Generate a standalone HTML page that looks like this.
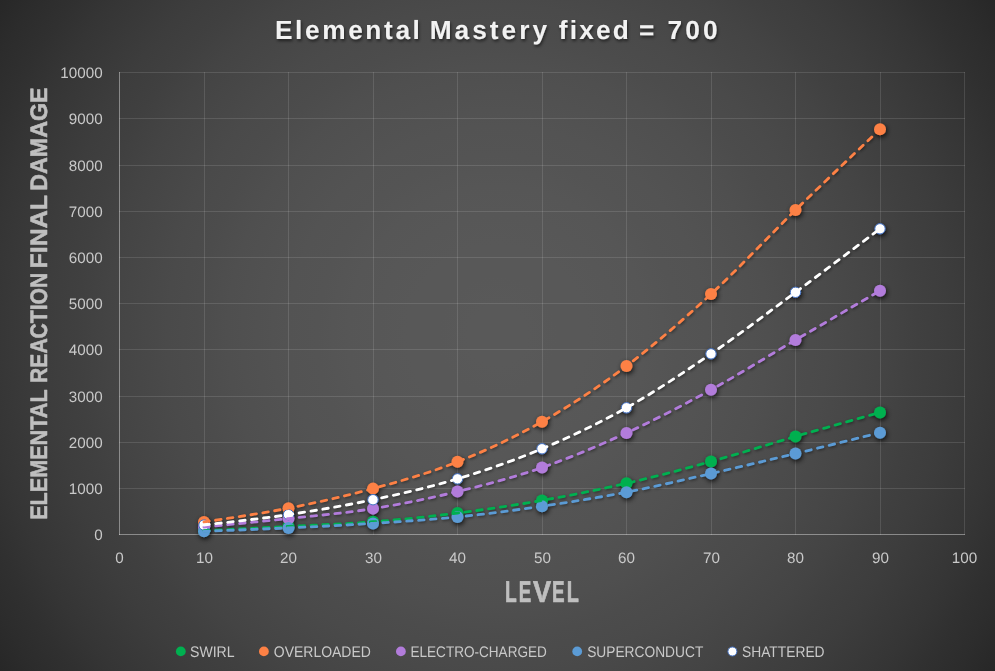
<!DOCTYPE html>
<html lang="en">
<head>
<meta charset="utf-8">
<title>Elemental Mastery fixed = 700</title>
<style>
html,body{margin:0;padding:0;}
body{width:995px;height:671px;overflow:hidden;background:#262626;}
#chart{position:relative;width:995px;height:671px;overflow:hidden;
 background:radial-gradient(circle farthest-corner at 50% 50%, rgb(89,89,89) 0%, rgb(89,89,89) 5%, rgb(88,88,88) 10%, rgb(88,88,88) 15%, rgb(87,87,87) 20%, rgb(86,86,86) 25%, rgb(84,84,84) 30%, rgb(83,83,83) 35%, rgb(81,81,81) 40%, rgb(79,79,79) 45%, rgb(76,76,76) 50%, rgb(74,74,74) 55%, rgb(71,71,71) 60%, rgb(68,68,68) 65%, rgb(64,64,64) 70%, rgb(61,61,61) 75%, rgb(57,57,57) 80%, rgb(53,53,53) 85%, rgb(48,48,48) 90%, rgb(44,44,44) 95%, rgb(39,39,39) 100%);}
svg{position:absolute;left:0;top:0;display:block;opacity:0.999;}
text{font-family:"Liberation Sans",sans-serif;text-rendering:geometricPrecision;}
.tick{font-size:15.2px;fill:#c9c9c9;}
.leg{font-size:15.4px;fill:#c9c9c9;}
.bold{font-weight:bold;}
</style>
</head>
<body>
<div id="chart">
<svg width="995" height="671" viewBox="0 0 995 671">
<defs>
<filter id="msh" x="-80%" y="-80%" width="260%" height="260%">
<feGaussianBlur in="SourceAlpha" stdDeviation="2.8"/>
<feOffset dx="1.2" dy="2.2"/>
<feComponentTransfer><feFuncA type="linear" slope="0.8"/></feComponentTransfer>
<feMerge><feMergeNode/><feMergeNode in="SourceGraphic"/></feMerge>
</filter>
<filter id="lsh" x="-5%" y="-5%" width="110%" height="110%">
<feGaussianBlur in="SourceAlpha" stdDeviation="1.6"/>
<feOffset dx="0.6" dy="1.2"/>
<feComponentTransfer><feFuncA type="linear" slope="0.45"/></feComponentTransfer>
</filter>
<filter id="tsh" x="-5%" y="-40%" width="110%" height="200%">
<feGaussianBlur in="SourceAlpha" stdDeviation="1.6"/>
<feOffset dx="1" dy="1.6"/>
<feComponentTransfer><feFuncA type="linear" slope="0.55"/></feComponentTransfer>
<feMerge><feMergeNode/><feMergeNode in="SourceGraphic"/></feMerge>
</filter>
</defs>

<g shape-rendering="crispEdges" stroke="rgb(242,242,242)" stroke-opacity="0.13" stroke-width="1">
<line x1="119" y1="72.5" x2="965" y2="72.5"/>
<line x1="119" y1="118.5" x2="965" y2="118.5"/>
<line x1="119" y1="165.5" x2="965" y2="165.5"/>
<line x1="119" y1="211.5" x2="965" y2="211.5"/>
<line x1="119" y1="257.5" x2="965" y2="257.5"/>
<line x1="119" y1="303.5" x2="965" y2="303.5"/>
<line x1="119" y1="349.5" x2="965" y2="349.5"/>
<line x1="119" y1="396.5" x2="965" y2="396.5"/>
<line x1="119" y1="442.5" x2="965" y2="442.5"/>
<line x1="119" y1="488.5" x2="965" y2="488.5"/>
<line x1="204.5" y1="72" x2="204.5" y2="535"/>
<line x1="288.5" y1="72" x2="288.5" y2="535"/>
<line x1="373.5" y1="72" x2="373.5" y2="535"/>
<line x1="457.5" y1="72" x2="457.5" y2="535"/>
<line x1="542.5" y1="72" x2="542.5" y2="535"/>
<line x1="626.5" y1="72" x2="626.5" y2="535"/>
<line x1="711.5" y1="72" x2="711.5" y2="535"/>
<line x1="795.5" y1="72" x2="795.5" y2="535"/>
<line x1="880.5" y1="72" x2="880.5" y2="535"/>
<line x1="964.5" y1="72" x2="964.5" y2="535"/>
</g>
<g shape-rendering="crispEdges" stroke="rgb(242,242,242)" stroke-opacity="0.42" stroke-width="1">
<line x1="119.5" y1="72" x2="119.5" y2="535"/><line x1="119" y1="534.5" x2="965" y2="534.5"/></g>
<g class="tick" text-anchor="end">
<text x="102.6" y="77.6">10000</text>
<text x="102.6" y="123.6">9000</text>
<text x="102.6" y="170.6">8000</text>
<text x="102.6" y="216.6">7000</text>
<text x="102.6" y="262.6">6000</text>
<text x="102.6" y="308.6">5000</text>
<text x="102.6" y="354.6">4000</text>
<text x="102.6" y="401.6">3000</text>
<text x="102.6" y="447.6">2000</text>
<text x="102.6" y="493.6">1000</text>
<text x="102.6" y="539.6">0</text>
</g>
<g class="tick" text-anchor="middle">
<text x="119.5" y="562.9">0</text>
<text x="204.5" y="562.9">10</text>
<text x="288.5" y="562.9">20</text>
<text x="373.5" y="562.9">30</text>
<text x="457.5" y="562.9">40</text>
<text x="542.5" y="562.9">50</text>
<text x="626.5" y="562.9">60</text>
<text x="711.5" y="562.9">70</text>
<text x="795.5" y="562.9">80</text>
<text x="880.5" y="562.9">90</text>
<text x="964.5" y="562.9">100</text>
</g>
<text class="bold" y="38.8" font-size="26.3" fill="#f2f2f2" filter="url(#tsh)"><tspan x="274.9" letter-spacing="2.6">Elemental</tspan> <tspan x="429.7" letter-spacing="3.0">Mastery</tspan> <tspan x="558.7" letter-spacing="2.2">fixed</tspan> <tspan x="639.0" letter-spacing="0">=</tspan> <tspan x="667.5" letter-spacing="3.1">700</tspan></text>
<text class="bold" y="601.8" font-size="30.0" fill="#bfbfbf" stroke="#bfbfbf" stroke-width="0.7" stroke-linejoin="round"><tspan x="504.95" textLength="11.72" lengthAdjust="spacingAndGlyphs">L</tspan><tspan x="518.83" textLength="12.53" lengthAdjust="spacingAndGlyphs">E</tspan><tspan x="532.95" textLength="18.10" lengthAdjust="spacingAndGlyphs">V</tspan><tspan x="551.97" textLength="12.59" lengthAdjust="spacingAndGlyphs">E</tspan><tspan x="566.81" textLength="12.08" lengthAdjust="spacingAndGlyphs">L</tspan></text>
<text class="bold" transform="translate(46.6 0) rotate(-90)" font-size="23.9" fill="#bfbfbf" stroke="#bfbfbf" stroke-width="0.55" stroke-linejoin="round"><tspan x="-519.8" textLength="130.0" lengthAdjust="spacingAndGlyphs">ELEMENTAL</tspan> <tspan x="-382.9" textLength="110.1" lengthAdjust="spacingAndGlyphs">REACTION</tspan> <tspan x="-268.5" textLength="73.0" lengthAdjust="spacingAndGlyphs">FINAL</tspan> <tspan x="-190.8" textLength="103.4" lengthAdjust="spacingAndGlyphs">DAMAGE</tspan></text>
<g filter="url(#lsh)" fill="none" stroke-width="2.85" stroke-linecap="round" stroke-linejoin="round" stroke-dasharray="5.5 6.5"><use href="#ln0"/><use href="#ln1"/><use href="#ln2"/><use href="#ln3"/><use href="#ln4"/></g>
<g filter="url(#msh)">
<circle cx="204.00" cy="530.76" r="6" fill="#00B050"/>
<circle cx="288.50" cy="526.41" r="6" fill="#00B050"/>
<circle cx="373.00" cy="521.79" r="6" fill="#00B050"/>
<circle cx="457.50" cy="513.02" r="6" fill="#00B050"/>
<circle cx="542.00" cy="500.40" r="6" fill="#00B050"/>
<circle cx="626.50" cy="483.31" r="6" fill="#00B050"/>
<circle cx="711.00" cy="461.50" r="6" fill="#00B050"/>
<circle cx="795.50" cy="436.46" r="6" fill="#00B050"/>
<circle cx="880.00" cy="412.49" r="6" fill="#00B050"/>
<circle cx="204.00" cy="522.03" r="6" fill="#FD8145"/>
<circle cx="288.50" cy="508.17" r="6" fill="#FD8145"/>
<circle cx="373.00" cy="488.62" r="6" fill="#FD8145"/>
<circle cx="457.50" cy="461.83" r="6" fill="#FD8145"/>
<circle cx="542.00" cy="421.68" r="6" fill="#FD8145"/>
<circle cx="626.50" cy="365.96" r="6" fill="#FD8145"/>
<circle cx="711.00" cy="294.08" r="6" fill="#FD8145"/>
<circle cx="795.50" cy="210.08" r="6" fill="#FD8145"/>
<circle cx="880.00" cy="129.14" r="6" fill="#FD8145"/>
<circle cx="204.00" cy="527.02" r="6" fill="#B27CDB"/>
<circle cx="288.50" cy="518.56" r="6" fill="#B27CDB"/>
<circle cx="373.00" cy="508.63" r="6" fill="#B27CDB"/>
<circle cx="457.50" cy="491.58" r="6" fill="#B27CDB"/>
<circle cx="542.00" cy="467.56" r="6" fill="#B27CDB"/>
<circle cx="626.50" cy="432.91" r="6" fill="#B27CDB"/>
<circle cx="711.00" cy="389.80" r="6" fill="#B27CDB"/>
<circle cx="795.50" cy="340.00" r="6" fill="#B27CDB"/>
<circle cx="880.00" cy="290.79" r="6" fill="#B27CDB"/>
<circle cx="204.00" cy="531.36" r="6" fill="#5B9BD5"/>
<circle cx="288.50" cy="527.94" r="6" fill="#5B9BD5"/>
<circle cx="373.00" cy="523.41" r="6" fill="#5B9BD5"/>
<circle cx="457.50" cy="516.94" r="6" fill="#5B9BD5"/>
<circle cx="542.00" cy="506.23" r="6" fill="#5B9BD5"/>
<circle cx="626.50" cy="492.18" r="6" fill="#5B9BD5"/>
<circle cx="711.00" cy="473.56" r="6" fill="#5B9BD5"/>
<circle cx="795.50" cy="453.60" r="6" fill="#5B9BD5"/>
<circle cx="880.00" cy="432.68" r="6" fill="#5B9BD5"/>
<circle cx="204.00" cy="525.03" r="5.2" fill="#fff" stroke="#4472C4" stroke-width="1"/>
<circle cx="288.50" cy="514.63" r="5.2" fill="#fff" stroke="#4472C4" stroke-width="1"/>
<circle cx="373.00" cy="499.71" r="5.2" fill="#fff" stroke="#4472C4" stroke-width="1"/>
<circle cx="457.50" cy="478.83" r="5.2" fill="#fff" stroke="#4472C4" stroke-width="1"/>
<circle cx="542.00" cy="448.75" r="5.2" fill="#fff" stroke="#4472C4" stroke-width="1"/>
<circle cx="626.50" cy="407.77" r="5.2" fill="#fff" stroke="#4472C4" stroke-width="1"/>
<circle cx="711.00" cy="353.86" r="5.2" fill="#fff" stroke="#4472C4" stroke-width="1"/>
<circle cx="795.50" cy="292.32" r="5.2" fill="#fff" stroke="#4472C4" stroke-width="1"/>
<circle cx="880.00" cy="228.79" r="5.2" fill="#fff" stroke="#4472C4" stroke-width="1"/>
</g>
<g fill="none" stroke-width="2.85" stroke-linecap="round" stroke-linejoin="round" stroke-dasharray="5.5 6.5">
<path id="ln0" stroke="#00B050" stroke-dasharray="5.5 6.396" d="M204.00 530.76C218.08 530.03 260.33 527.91 288.50 526.41C316.67 524.92 344.83 524.03 373.00 521.79C401.17 519.56 429.33 516.58 457.50 513.02C485.67 509.45 513.83 505.36 542.00 500.40C570.17 495.45 598.33 489.79 626.50 483.31C654.67 476.83 682.83 469.31 711.00 461.50C739.17 453.70 767.33 444.63 795.50 436.46C823.67 428.29 865.92 416.48 880.00 412.49"/>
<path id="ln1" stroke="#FD8145" stroke-dasharray="5.5 6.411" d="M204.00 522.03C218.08 519.72 260.33 513.73 288.50 508.17C316.67 502.60 344.83 496.35 373.00 488.62C401.17 480.90 429.33 472.98 457.50 461.83C485.67 450.67 513.83 437.66 542.00 421.68C570.17 405.70 598.33 387.23 626.50 365.96C654.67 344.69 682.83 320.06 711.00 294.08C739.17 268.10 767.33 237.57 795.50 210.08C823.67 182.59 865.92 142.63 880.00 129.14"/>
<path id="ln2" stroke="#B27CDB" stroke-dasharray="5.5 6.460" d="M204.00 527.02C218.08 525.61 260.33 521.63 288.50 518.56C316.67 515.50 344.83 513.12 373.00 508.63C401.17 504.13 429.33 498.43 457.50 491.58C485.67 484.73 513.83 477.34 542.00 467.56C570.17 457.78 598.33 445.87 626.50 432.91C654.67 419.95 682.83 405.29 711.00 389.80C739.17 374.32 767.33 356.50 795.50 340.00C823.67 323.50 865.92 299.00 880.00 290.79"/>
<path id="ln3" stroke="#5B9BD5" stroke-dasharray="5.5 6.439" d="M204.00 531.36C218.08 530.79 260.33 529.26 288.50 527.94C316.67 526.62 344.83 525.24 373.00 523.41C401.17 521.58 429.33 519.81 457.50 516.94C485.67 514.08 513.83 510.35 542.00 506.23C570.17 502.10 598.33 497.62 626.50 492.18C654.67 486.74 682.83 479.99 711.00 473.56C739.17 467.13 767.33 460.42 795.50 453.60C823.67 446.79 865.92 436.16 880.00 432.68"/>
<path id="ln4" stroke="#FFFFFF" stroke-dasharray="5.5 6.489" d="M204.00 525.03C218.08 523.30 260.33 518.85 288.50 514.63C316.67 510.41 344.83 505.68 373.00 499.71C401.17 493.74 429.33 487.32 457.50 478.83C485.67 470.34 513.83 460.60 542.00 448.75C570.17 436.91 598.33 423.59 626.50 407.77C654.67 391.96 682.83 373.10 711.00 353.86C739.17 334.62 767.33 313.16 795.50 292.32C823.67 271.48 865.92 239.38 880.00 228.79"/>
</g>
<circle cx="180.8" cy="651.4" r="4.9" fill="#00B050"/>
<text class="leg" x="190.0" y="656.9" textLength="44.6" lengthAdjust="spacingAndGlyphs">SWIRL</text>
<circle cx="263.9" cy="651.4" r="4.9" fill="#FD8145"/>
<text class="leg" x="273.8" y="656.9" textLength="97.1" lengthAdjust="spacingAndGlyphs">OVERLOADED</text>
<circle cx="400.9" cy="651.4" r="4.9" fill="#B27CDB"/>
<text class="leg" x="410.5" y="656.9" textLength="136.3" lengthAdjust="spacingAndGlyphs">ELECTRO-CHARGED</text>
<circle cx="577.2" cy="651.4" r="4.9" fill="#5B9BD5"/>
<text class="leg" x="587.2" y="656.9" textLength="116.1" lengthAdjust="spacingAndGlyphs">SUPERCONDUCT</text>
<circle cx="732.4" cy="651.5" r="4.5" fill="#fff" stroke="#4472C4" stroke-width="1"/>
<text class="leg" x="742.0" y="656.9" textLength="82.6" lengthAdjust="spacingAndGlyphs">SHATTERED</text>
</svg>
</div>
</body>
</html>
